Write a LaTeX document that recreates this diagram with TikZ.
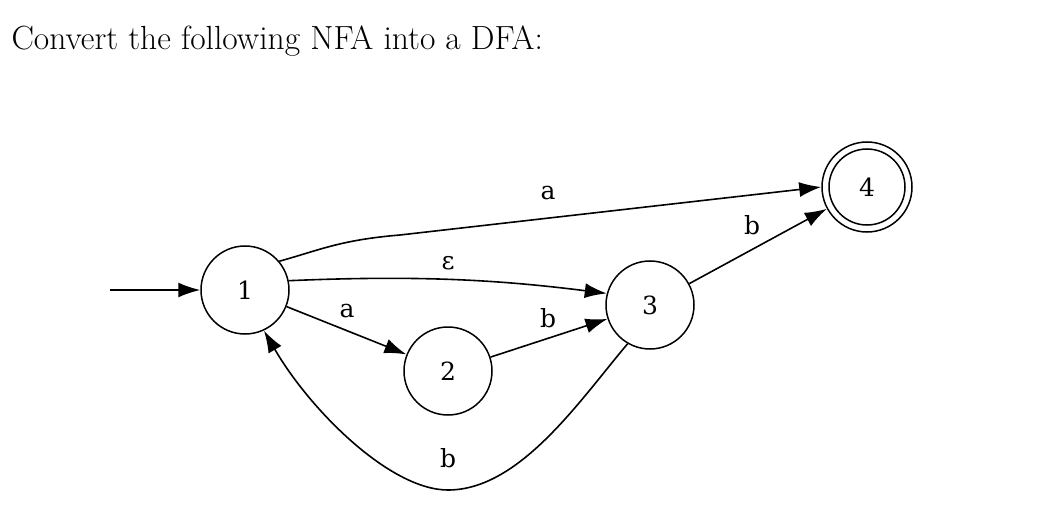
\documentclass[tikz,border=0pt]{standalone}
\usepackage{fontspec}
\newfontfamily\gv{DejaVu Serif}
\usetikzlibrary{arrows.meta}
\begin{document}
\begin{tikzpicture}[x=1pt,y=-1pt,
  st/.style={draw,circle,line width=1.5pt,minimum size=88pt,inner sep=0pt,font=\gv\fontsize{25}{25}\selectfont},
  ed/.style={line width=1.6pt,-{Latex[length=22pt,width=15pt]}},
  lb/.style={font=\gv\fontsize{25}{25}\selectfont}]
\useasboundingbox (0,0) rectangle (1042,508);
\node[anchor=west,font=\fontsize{33.5}{34}\selectfont] (t) at (8,41) {Convert the following NFA into a DFA:};
\node[st] (n1) at (245,290) {1};
\node[st] (n2) at (448,371) {2};
\node[st] (n3) at (650,305) {3};
\node[st,minimum size=90pt] (n4) at (867,187) {};
\node[st,minimum size=76pt] (n4i) at (867,187) {4};
\coordinate (s) at (110,290);
\draw[ed] (s) -- (n1);
\draw[ed] (n1.40) .. controls (320,250) and (340,240) .. (400,235) -- (n4.west);
\node[lb] (la) at (548,193) {a};
\draw[ed] (n1.12) .. controls (420,275) and (500,280) .. (n3.165);
\node[lb] (le) at (448,263) {ε};
\draw[ed] (n1) -- (n2);
\node[lb] (la2) at (347,311) {a};
\draw[ed] (n2) -- (n3);
\node[lb] (lb1) at (548,318) {b};
\draw[ed] (n3) -- (n4);
\node[lb] (lb2) at (752,225) {b};
\draw[ed] (n3.240) .. controls (580,400) and (520,490) .. (448,490) .. controls (390,490) and (310,410) .. (n1.295);
\node[lb] (lb3) at (448,458) {b};
\end{tikzpicture}
\end{document}
